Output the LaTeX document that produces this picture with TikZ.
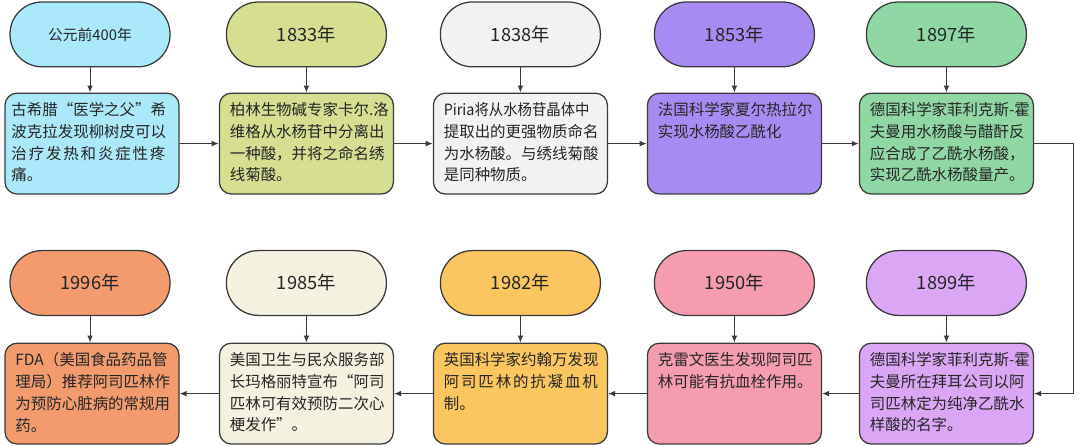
\documentclass[tikz,border=0pt]{standalone}
\usepackage{fontspec}
\setmainfont{Noto Sans CJK SC}
\usepackage{graphicx}
\usetikzlibrary{arrows.meta}
\XeTeXlinebreaklocale "zh"
\XeTeXlinebreakskip=0pt plus 1pt

\definecolor{edge}{HTML}{3A3A3A}
\definecolor{ink}{HTML}{262626}
\definecolor{cyanfill}{HTML}{A9E9F9}
\definecolor{limefill}{HTML}{D5DF8F}
\definecolor{greyfill}{HTML}{F2F2F2}
\definecolor{violetfill}{HTML}{A78BF3}
\definecolor{greenfill}{HTML}{8FD8A6}
\definecolor{lilacfill}{HTML}{D9A7F5}
\definecolor{pinkfill}{HTML}{F59CB0}
\definecolor{amberfill}{HTML}{FBC560}
\definecolor{creamfill}{HTML}{F4F1E1}
\definecolor{orangefill}{HTML}{F39B6D}

\newcommand{\spreadline}[1]{\makebox[3.85cm][s]{#1}}

\begin{document}
\begin{tikzpicture}[
		>={Latex[length=5pt,width=4pt]},
		yearpill/.style={draw=edge, line width=0.9pt, rounded corners=0.8cm, minimum width=4cm, minimum height=1.62cm, text=ink, font=\fontsize{13pt}{15pt}\selectfont},
		eventbox/.style={draw=edge, line width=0.9pt, rounded corners=0.3cm, minimum width=4.35cm, minimum height=2.52cm},
		eventtext/.style={anchor=north west, inner sep=0pt, text width=4.1cm, align=left, text=ink, font=\fontsize{11pt}{15.5pt}\selectfont},
		link/.style={->, line width=0.7pt, draw=edge}
	]
	\useasboundingbox (0, 0) rectangle (27, 11.15);

	% top row, left to right
	\node[yearpill, fill=cyanfill, font=\fontsize{10.5pt}{13pt}\selectfont] (yr1) at (2.25, 10.29) {公元前400年};
	\node[eventbox, fill=cyanfill] (ev1) at (2.3, 7.56) {};
	\node[eventtext] (tx1) at ([shift={(0.17, -0.24)}]ev1.north west) {古希腊“医学之父”希\\波克拉发现柳树皮可以\\\spreadline{治\hfill 疗\hfill 发\hfill 热\hfill 和\hfill 炎\hfill 症\hfill 性\hfill 疼}\\痛。};

	\node[yearpill, fill=limefill] (yr2) at (7.66, 10.29) {1833年};
	\node[eventbox, fill=limefill] (ev2) at (7.66, 7.56) {};
	\node[eventtext] (tx2) at ([shift={(0.27, -0.24)}]ev2.north west) {柏林生物碱专家卡尔.洛\\维格从水杨苷中分离出\\一种酸，并将之命名绣\\线菊酸。};

	\node[yearpill, fill=greyfill] (yr3) at (13.01, 10.29) {1838年};
	\node[eventbox, fill=greyfill] (ev3) at (13.01, 7.56) {};
	\node[eventtext] (tx3) at ([shift={(0.27, -0.24)}]ev3.north west) {\scalebox{0.93}[1]{Piria将从水杨苷晶体中}\\提取出的更强物质命名\\为水杨酸。与绣线菊酸\\是同种物质。};

	\node[yearpill, fill=violetfill] (yr4) at (18.36, 10.29) {1853年};
	\node[eventbox, fill=violetfill] (ev4) at (18.36, 7.56) {};
	\node[eventtext] (tx4) at ([shift={(0.27, -0.24)}]ev4.north west) {法国科学家夏尔热拉尔\\实现水杨酸乙酰化};

	\node[yearpill, fill=greenfill] (yr5) at (23.66, 10.29) {1897年};
	\node[eventbox, fill=greenfill] (ev5) at (23.66, 7.56) {};
	\node[eventtext] (tx5) at ([shift={(0.27, -0.24)}]ev5.north west) {德国科学家菲利克斯-霍\\夫曼用水杨酸与醋酐反\\应合成了乙酰水杨酸，\\实现乙酰水杨酸量产。};

	% bottom row, right to left
	\node[yearpill, fill=lilacfill] (yr6) at (23.66, 4.075) {1899年};
	\node[eventbox, fill=lilacfill] (ev6) at (23.66, 1.31) {};
	\node[eventtext] (tx6) at ([shift={(0.27, -0.24)}]ev6.north west) {德国科学家菲利克斯-霍\\夫曼所在拜耳公司以阿\\司匹林定为纯净乙酰水\\样酸的名字。};

	\node[yearpill, fill=pinkfill] (yr7) at (18.36, 4.075) {1950年};
	\node[eventbox, fill=pinkfill] (ev7) at (18.36, 1.31) {};
	\node[eventtext] (tx7) at ([shift={(0.27, -0.24)}]ev7.north west) {克雷文医生发现阿司匹\\林可能有抗血栓作用。};

	\node[yearpill, fill=amberfill] (yr8) at (13.01, 4.075) {1982年};
	\node[eventbox, fill=amberfill] (ev8) at (13.01, 1.31) {};
	\node[eventtext] (tx8) at ([shift={(0.27, -0.24)}]ev8.north west) {英国科学家约翰万发现\\\spreadline{阿\hfill 司\hfill 匹\hfill 林\hfill 的\hfill 抗\hfill 凝\hfill 血\hfill 机}\\制。};

	\node[yearpill, fill=creamfill] (yr9) at (7.66, 4.075) {1985年};
	\node[eventbox, fill=creamfill] (ev9) at (7.66, 1.31) {};
	\node[eventtext] (tx9) at ([shift={(0.27, -0.24)}]ev9.north west) {美国卫生与民众服务部\\长玛格丽特宣布“阿司\\匹林可有效预防二次心\\梗发作”。};

	\node[yearpill, fill=orangefill] (yr10) at (2.25, 4.075) {1996年};
	\node[eventbox, fill=orangefill] (ev10) at (2.3, 1.31) {};
	\node[eventtext] (tx10) at ([shift={(0.27, -0.24)}]ev10.north west) {FDA（美国食品药品管\\理局）推荐阿司匹林作\\为预防心脏病的常规用\\药。};

	% year to event
	\foreach \i in {1, ..., 10}
		\draw[link] (yr\i.south |- yr\i.south) -- (yr\i.south |- ev\i.north);

	% event to event
	\draw[link] (ev1) -- (ev2);
	\draw[link] (ev2) -- (ev3);
	\draw[link] (ev3) -- (ev4);
	\draw[link] (ev4) -- (ev5);
	\draw[link] (ev5.east) -- ++(0.99, 0) |- (ev6.east);
	\draw[link] (ev6) -- (ev7);
	\draw[link] (ev7) -- (ev8);
	\draw[link] (ev8) -- (ev9);
	\draw[link] (ev9) -- (ev10);
\end{tikzpicture}
\end{document}
